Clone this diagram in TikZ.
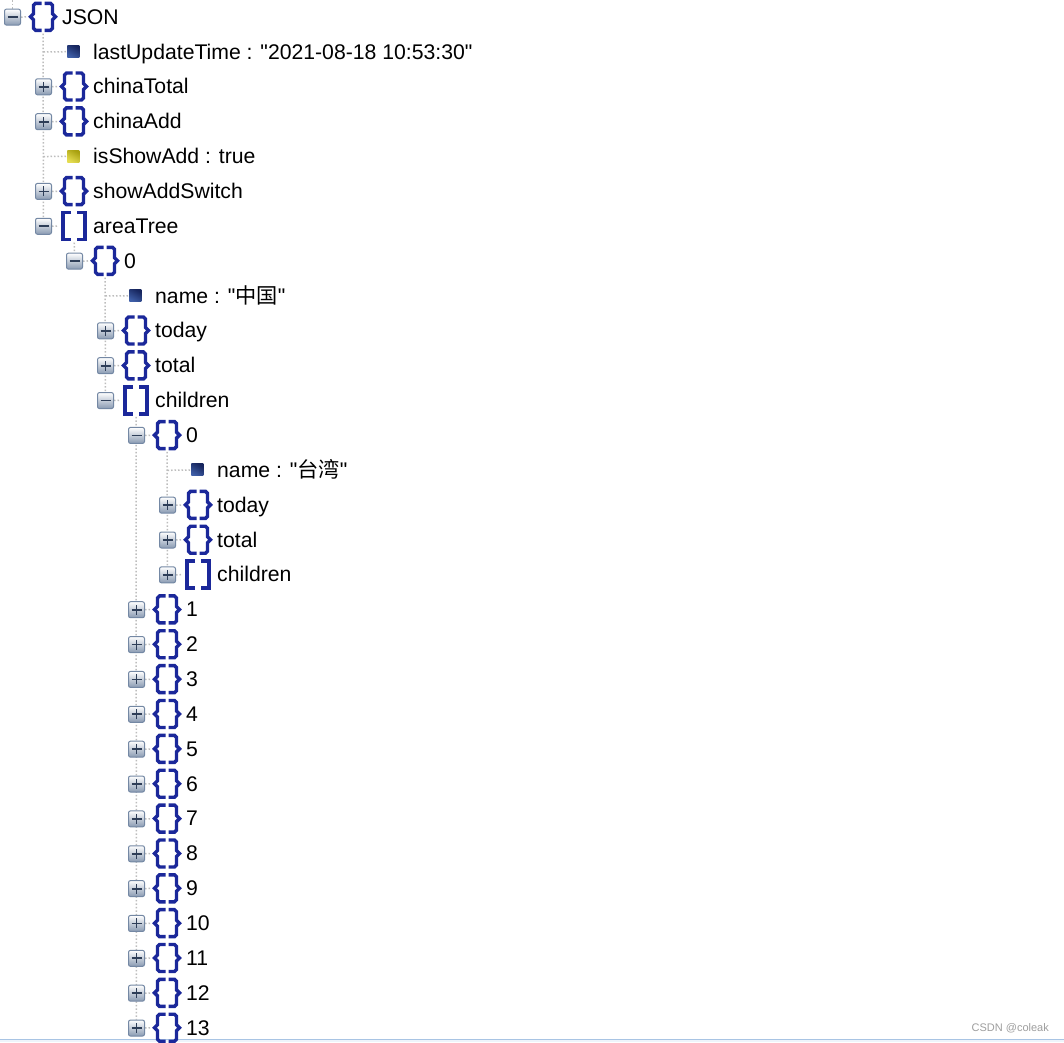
\documentclass[tikz,border=0pt]{standalone}
\usepackage{fontspec}
\setmainfont[Ligatures=TeXOff]{Liberation Sans}
\newfontfamily\cjkfont{Noto Sans CJK SC}
\usetikzlibrary{backgrounds}
\definecolor{Ink}{HTML}{1B289A}
\definecolor{Dots}{HTML}{BDBDBD}
\definecolor{BoxEdge}{HTML}{7488A4}
\definecolor{BoxSign}{HTML}{2E3E58}
\definecolor{LeafNavy}{HTML}{17265E}
\definecolor{LeafSteel}{HTML}{3F5FA8}
\definecolor{LeafOlive}{HTML}{A8A010}
\definecolor{LeafYellow}{HTML}{E4DC50}
\definecolor{EdgeLine}{HTML}{A8C4E4}
\definecolor{EdgeFill}{HTML}{EEF4FB}
\tikzset{
  treeline/.style={Dots,line width=1.5pt,dash pattern=on 1.5pt off 2pt},
  rowlabel/.style={anchor=base west,inner sep=0pt,font=\fontsize{21.2}{25}\selectfont},
  exbox/.style={draw=BoxEdge,line width=1pt,rounded corners=2pt,minimum size=16pt,inner sep=0pt,
    top color=white,bottom color=BoxEdge!85},
  minusbox/.style={exbox,path picture={
    \draw[BoxSign,line width=1.8pt] ([xshift=-5pt]path picture bounding box.center) -- ([xshift=5pt]path picture bounding box.center);}},
  plusbox/.style={exbox,path picture={
    \draw[BoxSign,line width=1.8pt] ([xshift=-5pt]path picture bounding box.center) -- ([xshift=5pt]path picture bounding box.center);
    \draw[BoxSign,line width=1.8pt] ([yshift=-5pt]path picture bounding box.center) -- ([yshift=5pt]path picture bounding box.center);}},
  leafstub/.style={coordinate},
  objicon/.style={minimum width=30pt,minimum height=33pt,inner sep=0pt,path picture={
    \begin{scope}[shift={(path picture bounding box.center)},Ink,line width=3.4pt]
      \draw (-1.5,-13.5) -- (-7.5,-13.5) -- (-9.5,-11.5) -- (-9.5,-3) -- (-12.5,0) -- (-9.5,3) -- (-9.5,11.5) -- (-7.5,13.5) -- (-1.5,13.5);
      \draw (1.5,-13.5) -- (7.5,-13.5) -- (9.5,-11.5) -- (9.5,-3) -- (12.5,0) -- (9.5,3) -- (9.5,11.5) -- (7.5,13.5) -- (1.5,13.5);
    \end{scope}}},
  arricon/.style={minimum width=30pt,minimum height=33pt,inner sep=0pt,path picture={
    \begin{scope}[shift={(path picture bounding box.center)},Ink,line width=3.8pt]
      \draw (-3,-13.5) -- (-11,-13.5) -- (-11,13.5) -- (-3,13.5);
      \draw (3,-13.5) -- (11,-13.5) -- (11,13.5) -- (3,13.5);
    \end{scope}}},
  leafblue/.style={minimum size=12pt,inner sep=0pt,xshift=-0.7pt,shade,top color=LeafNavy,bottom color=LeafSteel,shading angle=-30},
  leafgold/.style={minimum size=12pt,inner sep=0pt,xshift=-0.7pt,shade,top color=LeafOlive,bottom color=LeafYellow,shading angle=-30},
}
% row, level, expander, icon, text
\newcommand{\TreeRow}[5]{%
  \pgfmathsetmacro{\RowY}{16.8+34.86*#1}%
  \pgfmathsetmacro{\ExpX}{12.5+31*#2}%
  \node[#3] (exp#1) at (\ExpX,\RowY+0.3) {};%
  \node[#4] (icon#1) at (\ExpX+30.5,\RowY) {};%
  \node[rowlabel] (lab#1) at (\ExpX+49.5,\RowY+7.4) {#5};%
}

\begin{document}
\begin{tikzpicture}[x=1pt,y=-1pt]
\useasboundingbox (0,0) rectangle (1064,1042);
\coordinate (top0) at (12.5,0);
\TreeRow{0}{0}{minusbox}{objicon}{JSON}
\TreeRow{1}{1}{leafstub}{leafblue}{lastUpdateTime : "2021-08-18 10:53:30"}
\TreeRow{2}{1}{plusbox}{objicon}{chinaTotal}
\TreeRow{3}{1}{plusbox}{objicon}{chinaAdd}
\TreeRow{4}{1}{leafstub}{leafgold}{isShowAdd : true}
\TreeRow{5}{1}{plusbox}{objicon}{showAddSwitch}
\TreeRow{6}{1}{minusbox}{arricon}{areaTree}
\TreeRow{7}{2}{minusbox}{objicon}{0}
\TreeRow{8}{3}{leafstub}{leafblue}{name : "{\cjkfont 中国}"}
\TreeRow{9}{3}{plusbox}{objicon}{today}
\TreeRow{10}{3}{plusbox}{objicon}{total}
\TreeRow{11}{3}{minusbox}{arricon}{children}
\TreeRow{12}{4}{minusbox}{objicon}{0}
\TreeRow{13}{5}{leafstub}{leafblue}{name : "{\cjkfont 台湾}"}
\TreeRow{14}{5}{plusbox}{objicon}{today}
\TreeRow{15}{5}{plusbox}{objicon}{total}
\TreeRow{16}{5}{plusbox}{arricon}{children}
\foreach \n [evaluate=\n as \r using int(\n+16)] in {1,...,13} {
  \TreeRow{\r}{4}{plusbox}{objicon}{\n}
}
\node[anchor=base east,inner sep=0pt,text=black!38,font=\fontsize{11}{13}\selectfont] (mark) at (1049,1031) {CSDN @coleak};
\begin{scope}[on background layer]
  \fill[white] (0,0) rectangle (1064,1042);
  \fill[EdgeFill] (0,1039) rectangle (1064,1042);
  \draw[EdgeLine,line width=1pt] (0,1039.5) -- (1064,1039.5);
  \draw[treeline] (top0) -- (exp0);
  \foreach \a/\b in {icon0/exp6,icon6/exp7,icon7/exp11,icon11/exp29,icon12/exp16} {
    \draw[treeline] (\a) -- (\b);
  }
  \foreach \r in {0,...,29} {
    \draw[treeline] (exp\r) -- (icon\r);
  }
\end{scope}
\end{tikzpicture}
\end{document}
